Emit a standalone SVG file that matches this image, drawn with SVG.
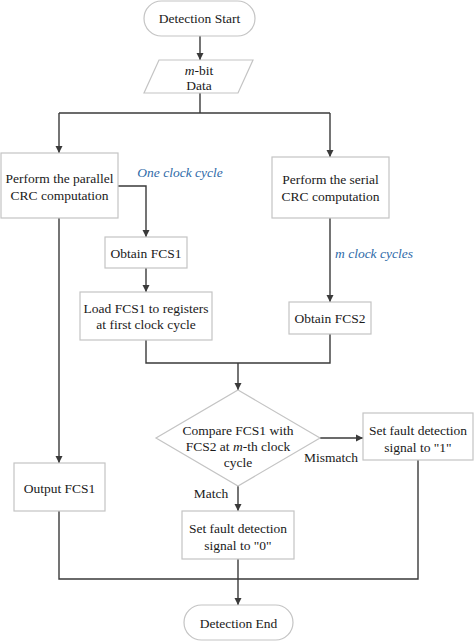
<svg xmlns="http://www.w3.org/2000/svg" width="474" height="641" viewBox="0 0 474 641">
<defs>
<marker id="ah" markerWidth="8" markerHeight="8" refX="7" refY="4" orient="auto" markerUnits="userSpaceOnUse">
<path d="M0,0.5 L7,4 L0,7.5 Z" fill="#3a3a3a"/>
</marker>
</defs>
<style>
.box{fill:#fff;stroke:#c4c4c4;stroke-width:1.2}
.ln{fill:none;stroke:#3a3a3a;stroke-width:1.4}
.ar{fill:none;stroke:#3a3a3a;stroke-width:1.4;marker-end:url(#ah)}
text{font-size:13.5px;fill:#1a1a1a;text-anchor:middle}
.lbl{fill:#2e6aa8;font-style:italic}
</style>
<rect width="474" height="641" fill="#fff"/>
<g font-family="Liberation Serif, serif">
<g id="connectors">
<path class="ar" d="M200,36 V60"/>
<path class="ln" d="M200,93 V113"/>
<path class="ln" d="M59,113 H330"/>
<path class="ar" d="M59,113 V153"/>
<path class="ar" d="M330,113 V157"/>
<path class="ar" d="M118,186 H146 V237"/>
<path class="ar" d="M146,268 V292"/>
<path class="ar" d="M330,218 V302"/>
<path class="ln" d="M146,340 V363 H330 V334"/>
<path class="ar" d="M238,363 V390"/>
<path class="ar" d="M320,438 H363"/>
<path class="ar" d="M238,486 V511"/>
<path class="ar" d="M59,218 V463"/>
<path class="ln" d="M59,511 V579 H418 V460"/>
<path class="ar" d="M238,559 V605"/>
<text class="lbl" x="180" y="177">One clock cycle</text>
<text class="lbl" x="374" y="258">m clock cycles</text>
<text x="331" y="462">Mismatch</text>
<text x="211" y="498">Match</text>
</g>
<g id="start">
<rect class="box" x="144" y="1" width="111" height="35" rx="17.5"/>
<text x="199.5" y="23">Detection Start</text>
</g>
<g id="data">
<polygon class="box" points="159,60 253,60 238,93 144,93"/>
<text x="199" y="75"><tspan font-style="italic">m</tspan>-bit</text>
<text x="199" y="90">Data</text>
</g>
<g id="parallel">
<rect class="box" x="1" y="153" width="117" height="65"/>
<text x="59.5" y="183">Perform the parallel</text>
<text x="59.5" y="200">CRC computation</text>
</g>
<g id="serial">
<rect class="box" x="272" y="157" width="117" height="61"/>
<text x="330.5" y="184">Perform the serial</text>
<text x="330.5" y="201">CRC computation</text>
</g>
<g id="obtain1">
<rect class="box" x="105" y="237" width="82" height="31"/>
<text x="146" y="258">Obtain FCS1</text>
</g>
<g id="load">
<rect class="box" x="80" y="292" width="132" height="48"/>
<text x="146" y="313">Load FCS1 to registers</text>
<text x="146" y="329">at first clock cycle</text>
</g>
<g id="obtain2">
<rect class="box" x="289" y="302" width="82" height="32"/>
<text x="330" y="323">Obtain FCS2</text>
</g>
<g id="compare">
<polygon class="box" points="238,390 320,438 238,486 156,438"/>
<text x="238" y="435">Compare FCS1 with</text>
<text x="238" y="451">FCS2 at <tspan font-style="italic">m</tspan>-th clock</text>
<text x="238" y="467">cycle</text>
</g>
<g id="fault1">
<rect class="box" x="363" y="413" width="110" height="47"/>
<text x="418" y="435">Set fault detection</text>
<text x="418" y="452">signal to "1"</text>
</g>
<g id="output">
<rect class="box" x="14" y="463" width="91" height="48"/>
<text x="59.5" y="493">Output FCS1</text>
</g>
<g id="fault0">
<rect class="box" x="182" y="511" width="112" height="48"/>
<text x="238" y="533">Set fault detection</text>
<text x="238" y="550">signal to "0"</text>
</g>
<g id="end">
<rect class="box" x="184" y="605" width="109" height="35" rx="17.5"/>
<text x="238.5" y="628">Detection End</text>
</g>
</g>
</svg>
